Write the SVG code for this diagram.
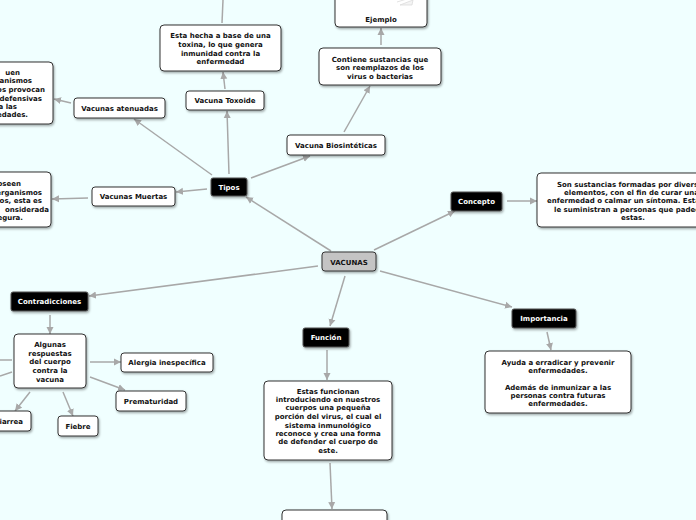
<svg xmlns="http://www.w3.org/2000/svg" width="696" height="520" viewBox="0 0 696 520">
<defs>
<marker id="ah" markerWidth="8" markerHeight="8" refX="7" refY="4" orient="auto" markerUnits="userSpaceOnUse">
<path d="M0,0.5 L7,4 L0,7.5 z" fill="#a8a8a8"/>
</marker>
<filter id="sh" x="-20%" y="-20%" width="140%" height="150%">
<feDropShadow dx="1" dy="1.5" stdDeviation="0.8" flood-color="#000" flood-opacity="0.35"/>
</filter>
</defs>
<style>
.bg{fill:#f0ffff}
.w{fill:#fff;stroke:#333;stroke-width:1;filter:url(#sh)}
.b{fill:#000;stroke:#555;stroke-width:1;filter:url(#sh)}
.g{fill:#c4c4c4;stroke:#333;stroke-width:1;filter:url(#sh)}
text{font-family:"DejaVu Sans","Liberation Sans",sans-serif;font-weight:bold;font-size:7px;fill:#111;text-anchor:middle}
.wt{fill:#fff}
.e{text-anchor:end}
.s{text-anchor:start}
.c line{stroke:#a8a8a8;stroke-width:1.5;marker-end:url(#ah)}
.c line.n{marker-end:none}
</style>
<rect class="bg" x="0" y="0" width="696" height="520"/>

<g class="c" id="connectors">
<line x1="331" y1="251" x2="246" y2="197"/>
<line x1="212" y1="175" x2="134" y2="119"/>
<line x1="229" y1="174" x2="227" y2="111"/>
<line x1="225" y1="89" x2="223" y2="72"/>
<line class="n" x1="222" y1="23" x2="223" y2="0"/>
<line x1="71" y1="103" x2="54" y2="99"/>
<line x1="207" y1="189" x2="176" y2="192"/>
<line x1="88" y1="198" x2="52" y2="199"/>
<line x1="251" y1="178" x2="310" y2="156"/>
<line x1="344" y1="132" x2="370" y2="86"/>
<line x1="381" y1="45" x2="381" y2="28"/>
<line x1="374" y1="250" x2="455" y2="211"/>
<line x1="507" y1="201" x2="537" y2="201"/>
<line x1="318" y1="266" x2="89" y2="296"/>
<line x1="50" y1="315" x2="50" y2="334"/>
<line x1="90" y1="362" x2="121" y2="362"/>
<line x1="90" y1="377" x2="125" y2="390"/>
<line x1="63" y1="392" x2="73" y2="416"/>
<line x1="30" y1="392" x2="15" y2="411"/>
<line class="n" x1="12" y1="360" x2="0" y2="360"/>
<line class="n" x1="12" y1="372" x2="0" y2="376"/>
<line x1="345" y1="276" x2="330" y2="326"/>
<line x1="327" y1="350" x2="327" y2="380"/>
<line x1="330" y1="463" x2="332" y2="509"/>
<line x1="380" y1="271" x2="512" y2="307"/>
<line x1="547" y1="332" x2="551" y2="350"/>
</g>

<g id="vacunas">
<rect class="g" x="322" y="252" width="54" height="19" rx="3"/>
<text x="349" y="264.5">VACUNAS</text>
</g>

<g id="tipos">
<rect class="b" x="211" y="178" width="36" height="18" rx="2"/>
<text class="wt" x="229" y="189.5">Tipos</text>
</g>

<g id="toxoide">
<rect class="w" x="186" y="91" width="78" height="19" rx="3"/>
<text x="225" y="103">Vacuna Toxoide</text>
</g>

<g id="toxina">
<rect class="w" x="160" y="25" width="121" height="46" rx="4"/>
<text x="220.5" y="37.5">Esta hecha a base de una</text>
<text x="220.5" y="46.5">toxina, lo que genera</text>
<text x="220.5" y="55.5">inmunidad contra la</text>
<text x="220.5" y="64">enfermedad</text>
</g>

<g id="atenuadas">
<rect class="w" x="74" y="98" width="91" height="20" rx="3"/>
<text x="119.5" y="110.5">Vacunas atenuadas</text>
</g>

<g id="atenuadas-desc">
<rect class="w" x="-70" y="62" width="123" height="62" rx="4"/>
<text class="e" x="20" y="74.5">uen</text>
<text class="e" x="32" y="82.5">anismos</text>
<text class="e" x="45" y="92">os provocan</text>
<text class="e" x="42" y="100.5">defensivas</text>
<text class="e" x="17" y="108.5">a las</text>
<text class="e" x="28" y="116.5">edades.</text>
</g>

<g id="muertas">
<rect class="w" x="92" y="187" width="83" height="19" rx="3"/>
<text x="133.5" y="199">Vacunas Muertas</text>
</g>

<g id="muertas-desc">
<rect class="w" x="-70" y="172" width="121" height="55" rx="4"/>
<text class="e" x="21" y="185.5">oseen</text>
<text class="e" x="42" y="194.5">erganismos</text>
<text class="e" x="42" y="202.5">os, esta es</text>
<text class="e" x="49" y="211.5">onsiderada</text>
<text class="e" x="23" y="219.5">egura.</text>
</g>

<g id="biosinteticas">
<rect class="w" x="287" y="135" width="98" height="20" rx="3"/>
<text x="336" y="147.5">Vacuna Biosintéticas</text>
</g>

<g id="contiene">
<rect class="w" x="319" y="48" width="122" height="37" rx="4"/>
<text x="380" y="61.5">Contiene sustancias que</text>
<text x="380" y="69.5">son reemplazos de los</text>
<text x="380" y="78.5">virus o bacterias</text>
</g>

<g id="ejemplo">
<rect class="w" x="335" y="-20" width="92" height="47" rx="4"/>
<path d="M397,2 L410,-2 M400,5 L413,0 L412,5 Z" fill="#f4f4f4" stroke="#dcdcdc" stroke-width="0.8"/>
<text x="381" y="21.5">Ejemplo</text>
</g>

<g id="concepto">
<rect class="b" x="451" y="192" width="51" height="19" rx="2"/>
<text class="wt" x="476.5" y="204">Concepto</text>
</g>

<g id="concepto-desc">
<rect class="w" x="537" y="173" width="192" height="54" rx="4"/>
<text class="s" x="557" y="186.5">Son sustancias formadas por diversos</text>
<text class="s" x="564" y="194.5">elementos, con el fin de curar una</text>
<text class="s" x="547" y="202.5">enfermedad o calmar un síntoma. Estas se</text>
<text class="s" x="554" y="211.5">le suministran a personas que padecen</text>
<text x="633" y="219.5">estas.</text>
</g>

<g id="contradicciones">
<rect class="b" x="11" y="292" width="77" height="19" rx="2"/>
<text class="wt" x="49.5" y="304">Contradicciones</text>
</g>

<g id="algunas">
<rect class="w" x="14" y="334" width="72" height="54" rx="4"/>
<text x="50" y="346.5">Algunas</text>
<text x="50" y="355.5">respuestas</text>
<text x="50" y="363.5">del cuerpo</text>
<text x="50" y="372.5">contra la</text>
<text x="50" y="381.5">vacuna</text>
</g>

<g id="alergia">
<rect class="w" x="121" y="353" width="92" height="19" rx="3"/>
<text x="167" y="365">Alergia inespecífica</text>
</g>

<g id="prematuridad">
<rect class="w" x="116" y="391" width="70" height="20" rx="3"/>
<text x="151" y="403.5">Prematuridad</text>
</g>

<g id="fiebre">
<rect class="w" x="58" y="416" width="40" height="20" rx="3"/>
<text x="78" y="428.5">Fiebre</text>
</g>

<g id="diarrea">
<rect class="w" x="-20" y="411" width="51" height="20" rx="3"/>
<text class="e" x="23" y="423.5">Diarrea</text>
</g>

<g id="funcion">
<rect class="b" x="303" y="328" width="46" height="19" rx="2"/>
<text class="wt" x="326" y="340">Función</text>
</g>

<g id="funcion-desc">
<rect class="w" x="264" y="381" width="128" height="79" rx="4"/>
<text x="328" y="393.5">Estas funcionan</text>
<text x="328" y="401.5">introduciendo en nuestros</text>
<text x="328" y="410">cuerpos una pequeña</text>
<text x="328" y="419">porción del virus, el cual el</text>
<text x="328" y="427.5">sistema inmunológico</text>
<text x="328" y="435.5">reconoce y crea una forma</text>
<text x="328" y="444">de defender el cuerpo de</text>
<text x="328" y="453">este.</text>
</g>

<g id="funcion-next">
<rect class="w" x="282" y="510" width="105" height="30" rx="4"/>
</g>

<g id="importancia">
<rect class="b" x="512" y="309" width="64" height="19" rx="2"/>
<text class="wt" x="544" y="321">Importancia</text>
</g>

<g id="importancia-desc">
<rect class="w" x="485" y="351" width="146" height="62" rx="4"/>
<text x="558" y="364.5">Ayuda a erradicar y prevenir</text>
<text x="558" y="372.5">enfermedades.</text>
<text x="558" y="389.5">Además de inmunizar a las</text>
<text x="558" y="397.5">personas contra futuras</text>
<text x="558" y="405.5">enfermedades.</text>
</g>
</svg>
